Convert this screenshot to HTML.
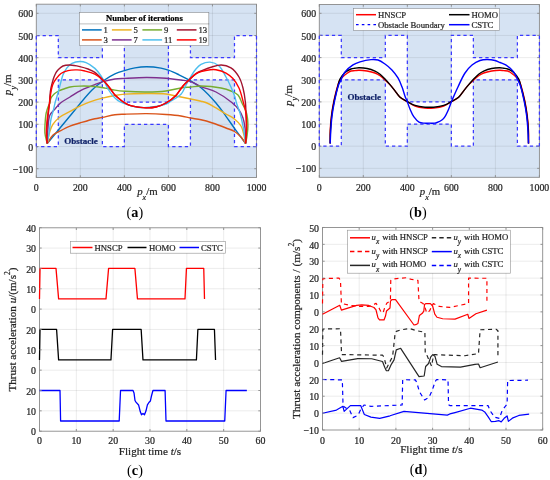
<!DOCTYPE html>
<html><head><meta charset="utf-8"><style>
html,body{margin:0;padding:0;background:#fff;width:550px;height:480px;overflow:hidden}
svg{display:block;will-change:transform}
</style></head><body>
<svg width="550" height="480" viewBox="0 0 550 480" font-family='"Liberation Serif", serif' fill="#262626">
<rect width="550" height="480" fill="#FFFFFF"/>
<rect x="36.3" y="4.2" width="220.2" height="173.3" fill="#D6E3F3"/>
<path d="M36.3 35.5 L58.32 35.5 L58.32 57.7 L102.36 57.7 L102.36 35.5 L124.38 35.5 L124.38 102.1 L168.42 102.1 L168.42 35.5 L190.44 35.5 L190.44 57.7 L234.48 57.7 L234.48 35.5 L256.5 35.5 L256.5 146.5 L234.48 146.5 L234.48 79.9 L190.44 79.9 L190.44 146.5 L168.42 146.5 L168.42 124.3 L124.38 124.3 L124.38 146.5 L102.36 146.5 L102.36 79.9 L58.32 79.9 L58.32 146.5 L36.3 146.5Z" fill="#FFFFFF"/>
<path d="M80.34 4.2 V177.5 M124.38 4.2 V177.5 M168.42 4.2 V177.5 M212.46 4.2 V177.5 M36.3 168.7 H256.5 M36.3 146.5 H256.5 M36.3 124.3 H256.5 M36.3 102.1 H256.5 M36.3 79.9 H256.5 M36.3 57.7 H256.5 M36.3 35.5 H256.5 M36.3 13.3 H256.5" stroke="#262626" stroke-opacity="0.11" stroke-width="0.8" fill="none"/>
<rect x="36.3" y="4.2" width="220.2" height="173.3" fill="none" stroke="#8A8A8A" stroke-width="0.9"/>
<path d="M36.3 35.5 L58.32 35.5 L58.32 57.7 L102.36 57.7 L102.36 35.5 L124.38 35.5 L124.38 102.1 L168.42 102.1 L168.42 35.5 L190.44 35.5 L190.44 57.7 L234.48 57.7 L234.48 35.5 L256.5 35.5" stroke="#3A3AFF" stroke-width="1.25" fill="none" stroke-dasharray="3.3 3.0"/>
<path d="M256.5 146.5 L234.48 146.5 L234.48 79.9 L190.44 79.9 L190.44 146.5 L168.42 146.5 L168.42 124.3 L124.38 124.3 L124.38 146.5 L102.36 146.5 L102.36 79.9 L58.32 79.9 L58.32 146.5 L36.3 146.5" stroke="#3A3AFF" stroke-width="1.25" fill="none" stroke-dasharray="3.3 3.0"/>
<path d="M36.3 146.5 L36.3 35.5" stroke="#3A3AFF" stroke-width="1.25" fill="none" stroke-dasharray="3.3 3.0"/>
<path d="M256.5 146.5 L256.5 35.5" stroke="#3A3AFF" stroke-width="1.25" fill="none" stroke-dasharray="3.3 3.0"/>
<path d="M47.2 143.5C54.58 134.59 61.88 125.65 69.33 116.75C76.82 107.81 85.55 96.35 92.01 90C96.13 85.96 99.18 83.71 103.02 81.01C106.81 78.35 111.09 75.7 114.91 73.91C118.17 72.38 121.11 71.56 124.38 70.58C127.78 69.55 131.33 68.54 134.95 67.91C138.67 67.27 142.36 66.81 146.4 66.8C150.96 66.79 156.81 67.39 160.93 68.13C164.07 68.7 166.27 69.35 169.08 70.35C172.26 71.49 175.71 73.21 178.99 74.79C182.31 76.39 185.48 77.93 188.9 79.9C192.78 82.14 196.95 84.36 201.01 87.67C205.96 91.71 211.63 97.92 215.98 102.99C219.82 107.46 222.83 111.96 226 116.31C228.98 120.39 231.44 124.08 234.48 128.3C237.92 133.07 241.89 138.42 245.6 143.48" stroke="#0072BD" stroke-width="1.4" fill="none"/>
<path d="M47.2 143.5C49.14 140.65 50.72 137.09 53.04 134.96C55.07 133.07 57.44 132.32 59.99 130.96C63 129.36 66.61 127.42 69.99 126.08C73.25 124.78 76.25 124.05 79.9 122.97C84.37 121.64 90.72 119.7 94.87 118.75C97.78 118.08 99.55 117.97 102.36 117.42C106.01 116.71 110.93 115.28 114.91 114.75C118.45 114.28 121.04 114.36 125.04 114.2C130.85 113.96 139.43 113.58 146.4 113.64C153.07 113.7 159.91 114.05 166 114.49C171.33 114.87 176.57 115.31 180.97 116C184.5 116.55 187.19 117.38 190.44 118C193.86 118.64 197.44 118.95 201.01 119.75C204.77 120.59 208.51 121.68 212.46 122.97C216.81 124.38 222.03 126.43 226 127.99C229.17 129.23 231.95 129.95 234.48 131.49C236.92 132.98 239.12 134.96 241 137C242.81 138.97 244.07 141.32 245.6 143.48" stroke="#D95319" stroke-width="1.4" fill="none"/>
<path d="M47.2 143.5C48.12 139.32 48.8 134.47 49.95 130.96C50.84 128.27 51.55 126.26 53.04 124.08C54.75 121.57 57.29 119.03 59.99 116.97C62.89 114.77 66.66 113.24 69.99 111.42C73.29 109.62 76.54 107.69 79.9 106.1C83.22 104.52 86.45 103.17 90.03 101.88C93.91 100.48 98.21 99.18 102.36 98.1C106.5 97.03 110.94 96.12 114.91 95.44C118.46 94.83 121.03 94.42 125.04 94.11C130.84 93.65 139.43 93.56 146.4 93.55C153.07 93.54 160.59 93.4 166 94C169.88 94.43 172.26 95.26 175.91 96C180.38 96.89 186.38 98.05 190.88 98.99C194.59 99.77 198.09 100.46 201.01 101.21C203.27 101.8 204.82 102.09 206.95 102.99C209.71 104.15 212.91 106.21 215.98 107.98C219.25 109.87 222.8 112.1 226 114C228.94 115.74 231.97 116.96 234.48 118.97C236.96 120.96 239.42 123.31 241 125.99C242.57 128.64 243.17 131.98 243.95 134.96C244.69 137.81 245.05 140.64 245.6 143.48" stroke="#EDB120" stroke-width="1.4" fill="none"/>
<path d="M47.2 143.5C47.46 138.36 47.48 132.99 47.97 128.07C48.43 123.52 48.43 118.34 49.95 114.98C51.13 112.39 53.27 110.96 55.02 108.98C56.79 106.97 58.29 104.85 60.52 102.99C63.14 100.8 66.64 99.05 69.99 96.99C73.71 94.7 77.75 91.96 81.88 89.89C86.04 87.81 90.92 86.05 94.87 84.56C98.14 83.33 100.72 82.35 103.9 81.45C107.36 80.48 111.3 79.53 114.91 79.01C118.34 78.52 121.04 78.56 125.04 78.35C130.85 78.03 139.43 77.47 146.4 77.46C153.07 77.44 159.91 77.71 166 78.19C171.33 78.61 176.61 79.37 180.97 79.99C184.37 80.47 186.91 80.51 190 81.45C193.56 82.55 197.02 84.91 201.01 86.56C205.58 88.45 211.07 89.52 215.98 92C221.36 94.71 227.73 99.11 231.84 102.54C234.86 105.07 237.1 107.3 238.99 109.98C240.76 112.48 242.01 115.11 243 118C244.06 121.08 244.56 124.27 245.01 127.99C245.55 132.57 245.4 138.32 245.6 143.48" stroke="#7E2F8E" stroke-width="1.4" fill="none"/>
<path d="M47.2 143.5C46.43 139.99 45.23 136.45 44.89 132.96C44.56 129.6 44.89 126.29 45.11 122.97C45.33 119.63 45.57 115.97 46.21 112.98C46.75 110.44 47.67 107.92 48.41 106.1C48.92 104.83 49.56 104.15 49.95 102.99C50.4 101.67 50.21 99.96 50.83 98.55C51.53 96.99 52.84 95.37 54.14 94.11C55.41 92.86 56.9 91.87 58.54 91C60.32 90.06 62.53 89.46 64.49 88.78C66.35 88.13 67.86 87.44 69.99 87C72.78 86.44 76.25 86.22 79.9 86.12C84.37 85.98 90.38 86.15 94.87 86.56C98.59 86.9 101.65 87.52 105 88.11C108.33 88.7 111.58 89.59 114.91 90.11C118.26 90.63 121.04 90.93 125.04 91.22C130.84 91.64 139.43 92.05 146.4 92C153.07 91.95 159.93 91.76 166 91C171.35 90.33 176.48 88.68 180.97 88C184.6 87.46 187.56 87.34 190.88 87C194.24 86.67 197.06 86 201.01 86C206.56 86.01 215.58 86.91 221.05 88C224.97 88.78 228 89.73 230.96 91C233.57 92.12 236.19 93.08 238 95C239.91 97.01 240.63 100.16 241.97 102.99C243.45 106.12 245.51 109.34 246.5 112.98C247.59 116.95 247.87 121.93 247.91 125.99C247.95 129.54 247.46 132.91 247.03 136C246.66 138.68 246.08 140.99 245.6 143.48" stroke="#77AC30" stroke-width="1.4" fill="none"/>
<path d="M47.2 143.5C47.82 139.99 48.47 136.73 49.07 132.96C49.76 128.63 50.18 123.32 51.05 118.97C51.84 115.09 53.21 111.05 53.92 108.09C54.4 106.08 54.51 104.96 55.02 102.99C55.73 100.2 56.99 96.55 57.99 93C59.12 88.99 60.46 83.43 61.4 80.12C62 78.03 62.18 76.81 62.94 75.02C63.89 72.8 65.31 69.89 66.91 67.91C68.36 66.11 69.95 64.54 71.97 63.47C74.2 62.3 77.41 61.56 79.9 61.47C82.08 61.4 83.92 61.73 86.07 62.58C88.85 63.69 92.34 66.08 94.87 68.36C97.31 70.55 99.3 73.35 101.04 75.9C102.63 78.24 103.78 80.73 105 83.01C106.11 85.08 106.86 86.98 108.09 89C109.45 91.26 111.18 93.89 112.93 95.88C114.51 97.69 116.05 99.24 117.99 100.55C120.06 101.94 122.45 102.89 125.04 103.88C128.02 105.01 131.49 106.15 134.95 106.76C138.6 107.41 142.09 107.78 146.4 107.54C152.08 107.22 161.71 105.6 166 103.99C168.32 103.11 169.06 102.21 171 100.99C173.77 99.23 178.43 97.11 180.97 94.33C183.36 91.72 184.44 87.89 186.04 85.01C187.43 82.5 188.5 80.44 190 77.99C191.74 75.16 193.88 71.4 195.94 69.02C197.58 67.13 198.92 65.62 201.01 64.49C203.46 63.18 207.06 61.93 210.04 62.14C213.08 62.36 216.53 63.76 219.07 65.91C222 68.41 223.96 73.36 226 77.01C227.89 80.38 229.46 83.64 230.96 87C232.43 90.3 233.97 94.06 234.92 96.99C235.65 99.22 235.78 100.75 236.46 102.99C237.35 105.91 238.94 109.4 239.99 112.98C241.16 117 242.15 121.72 243 125.99C243.81 130.06 244.56 134.76 245.01 138C245.3 140.17 245.4 141.65 245.6 143.48" stroke="#4DBEEE" stroke-width="1.4" fill="none"/>
<path d="M47.2 143.5C47.02 139.99 46.63 136.42 46.65 132.96C46.67 129.58 47.02 126.29 47.31 122.97C47.6 119.63 48.04 116.31 48.41 112.98C48.78 109.65 49.24 106.14 49.51 102.99C49.75 100.18 49.74 97.57 50 95C50.24 92.58 50.55 90.24 50.99 88C51.39 85.91 51.96 83.89 52.48 81.99C52.97 80.24 53.41 78.61 54 77.01C54.58 75.47 55.24 73.82 55.99 72.57C56.6 71.56 57.11 70.9 57.99 70C59.22 68.74 61.02 66.84 62.94 66C64.98 65.12 67.44 65 69.99 65.03C73.01 65.05 76.78 65.87 79.9 66.58C82.77 67.23 85.49 68.02 88.05 69.02C90.46 69.97 92.57 70.74 94.87 72.35C97.83 74.42 101.38 78.33 103.9 81.01C105.9 83.14 107.24 84.83 108.97 87C110.91 89.45 112.7 92.63 114.91 95C117.04 97.27 120.05 99.57 121.96 100.99C123.16 101.89 123.88 102.32 125.04 102.99C126.45 103.8 127.92 104.76 129.88 105.43C132.6 106.36 137.01 107.03 140.01 107.43C142.38 107.74 144.06 107.9 146.4 107.87C149.28 107.84 152.82 107.75 156 106.98C159.36 106.18 162.79 104.81 166 102.99C169.45 101.03 173.05 98.32 175.91 95.44C178.68 92.64 180.5 88.83 182.95 86C185.21 83.41 187.72 81.16 190 79.01C192.04 77.09 193.96 75.07 195.94 73.68C197.63 72.51 198.7 71.96 201.01 71.02C205.42 69.22 215.53 65.05 221.05 65.03C224.92 65.01 228.05 66.07 230.96 67.91C234.11 69.91 236.98 73.63 238.99 77.01C240.97 80.34 241.95 84 243 88C244.2 92.56 245.02 98.48 245.49 102.99C245.87 106.64 245.78 109.31 245.93 112.98C246.12 117.47 246.55 122.94 246.5 127.99C246.45 133.11 245.9 138.32 245.6 143.48" stroke="#A2142F" stroke-width="1.4" fill="none"/>
<path d="M47.2 143.5C46.94 139.99 46.48 136.43 46.43 132.96C46.38 129.58 46.61 126.29 46.87 122.97C47.13 119.63 47.53 116.3 47.97 112.98C48.41 109.64 49.07 106.14 49.51 102.99C49.9 100.18 50.09 97.65 50.5 95C50.92 92.33 51.32 89.33 52 87C52.55 85.11 53.26 83.41 54 81.99C54.61 80.83 55.13 80.12 55.99 79.01C57.23 77.41 58.97 74.87 60.96 73.46C62.97 72.04 65.46 71.18 68.01 70.58C70.78 69.92 74.13 69.81 77.04 69.91C79.77 70 82.2 70.4 84.96 71.02C88.11 71.73 91.78 72.53 94.87 74.13C98.11 75.8 101.43 78.66 103.9 81.01C105.96 82.97 107.24 84.83 108.97 87C110.91 89.45 112.7 92.63 114.91 95C117.04 97.27 120.05 99.57 121.96 100.99C123.16 101.89 123.88 102.32 125.04 102.99C126.45 103.8 127.92 104.76 129.88 105.43C132.6 106.36 137.01 107.03 140.01 107.43C142.38 107.74 144.06 107.9 146.4 107.87C149.28 107.84 152.82 107.75 156 106.98C159.36 106.18 162.79 104.81 166 102.99C169.45 101.03 173.05 98.32 175.91 95.44C178.68 92.64 180.5 88.83 182.95 86C185.21 83.41 187.71 81.12 190 79.01C192.03 77.14 193.95 75.16 195.94 73.91C197.62 72.85 199.03 72.33 201.01 71.69C203.6 70.85 207.53 69.98 210.26 69.69C212.38 69.46 213.84 69.34 215.98 69.69C218.89 70.16 223.09 71.44 226 73.02C228.67 74.47 230.87 76.27 232.94 78.57C235.26 81.15 237.32 84.36 238.99 88C240.98 92.31 242.28 98.48 243.51 102.99C244.5 106.64 245.42 109.28 245.93 112.98C246.55 117.45 246.55 122.94 246.5 127.99C246.45 133.11 245.9 138.32 245.6 143.48" stroke="#FF0000" stroke-width="1.4" fill="none"/>
<text x="64.2" y="143.8" font-size="9" font-weight="bold" fill="#0D1F66" stroke="#0D1F66" stroke-width="0.22">Obstacle</text>
<path d="M36.3 177.5 v-2.2 M36.3 4.2 v2.2 M80.34 177.5 v-2.2 M80.34 4.2 v2.2 M124.38 177.5 v-2.2 M124.38 4.2 v2.2 M168.42 177.5 v-2.2 M168.42 4.2 v2.2 M212.46 177.5 v-2.2 M212.46 4.2 v2.2 M256.5 177.5 v-2.2 M256.5 4.2 v2.2 M36.3 168.7 h2.2 M256.5 168.7 h-2.2 M36.3 146.5 h2.2 M256.5 146.5 h-2.2 M36.3 124.3 h2.2 M256.5 124.3 h-2.2 M36.3 102.1 h2.2 M256.5 102.1 h-2.2 M36.3 79.9 h2.2 M256.5 79.9 h-2.2 M36.3 57.7 h2.2 M256.5 57.7 h-2.2 M36.3 35.5 h2.2 M256.5 35.5 h-2.2 M36.3 13.3 h2.2 M256.5 13.3 h-2.2" stroke="#8A8A8A" stroke-width="0.9" fill="none"/>
<text x="36.3" y="190.5" font-size="9.9" text-anchor="middle"  stroke="#262626" stroke-width="0.22">0</text>
<text x="80.34" y="190.5" font-size="9.9" text-anchor="middle"  stroke="#262626" stroke-width="0.22">200</text>
<text x="124.38" y="190.5" font-size="9.9" text-anchor="middle"  stroke="#262626" stroke-width="0.22">400</text>
<text x="168.42" y="190.5" font-size="9.9" text-anchor="middle"  stroke="#262626" stroke-width="0.22">600</text>
<text x="212.46" y="190.5" font-size="9.9" text-anchor="middle"  stroke="#262626" stroke-width="0.22">800</text>
<text x="256.5" y="190.5" font-size="9.9" text-anchor="middle"  stroke="#262626" stroke-width="0.22">1000</text>
<text x="33.1" y="172.8" font-size="9.9" text-anchor="end"  stroke="#262626" stroke-width="0.22">&#8722;100</text>
<text x="33.1" y="150.6" font-size="9.9" text-anchor="end"  stroke="#262626" stroke-width="0.22">0</text>
<text x="33.1" y="128.4" font-size="9.9" text-anchor="end"  stroke="#262626" stroke-width="0.22">100</text>
<text x="33.1" y="106.2" font-size="9.9" text-anchor="end"  stroke="#262626" stroke-width="0.22">200</text>
<text x="33.1" y="84" font-size="9.9" text-anchor="end"  stroke="#262626" stroke-width="0.22">300</text>
<text x="33.1" y="61.8" font-size="9.9" text-anchor="end"  stroke="#262626" stroke-width="0.22">400</text>
<text x="33.1" y="39.6" font-size="9.9" text-anchor="end"  stroke="#262626" stroke-width="0.22">500</text>
<text x="33.1" y="17.4" font-size="9.9" text-anchor="end"  stroke="#262626" stroke-width="0.22">600</text>
<text x="137.2" y="194.8" font-size="10.8" stroke="#262626" stroke-width="0.22"><tspan font-style="italic">p</tspan><tspan font-size="8" dy="4.8" font-style="italic">x</tspan><tspan dy="-4.8">/m</tspan></text>
<text transform="translate(10.9 95.2) rotate(-90)" font-size="11.2" stroke="#262626" stroke-width="0.22"><tspan font-style="italic">p</tspan><tspan font-size="8" dy="4.8" font-style="italic">y</tspan><tspan dy="-4.8">/m</tspan></text>
<text x="134.9" y="216.9" font-size="14.2" text-anchor="middle" fill="#000">(<tspan font-weight="bold">a</tspan>)</text>
<rect x="79.5" y="12.45" width="129.3" height="33.2" fill="#FFFFFF" stroke="#262626" stroke-opacity="0.5" stroke-width="0.6"/>
<path d="M79.5 23.9 H209.3" stroke="#262626" stroke-opacity="0.5" stroke-width="0.6"/>
<text x="144.4" y="21.4" font-size="8.6" font-weight="bold" text-anchor="middle" fill="#000" stroke="#000" stroke-width="0.22">Number of iterations</text>
<path d="M82 29.9 h19.7" stroke="#0072BD" stroke-width="1.5"/>
<text x="103.6" y="33.1" font-size="8.7" text-anchor="start"  stroke="#262626" stroke-width="0.22">1</text>
<path d="M82 39.9 h19.7" stroke="#D95319" stroke-width="1.5"/>
<text x="103.6" y="43.1" font-size="8.7" text-anchor="start"  stroke="#262626" stroke-width="0.22">3</text>
<path d="M111.9 29.9 h19.7" stroke="#EDB120" stroke-width="1.5"/>
<text x="133.5" y="33.1" font-size="8.7" text-anchor="start"  stroke="#262626" stroke-width="0.22">5</text>
<path d="M111.9 39.9 h19.7" stroke="#7E2F8E" stroke-width="1.5"/>
<text x="133.5" y="43.1" font-size="8.7" text-anchor="start"  stroke="#262626" stroke-width="0.22">7</text>
<path d="M142.4 29.9 h19.7" stroke="#77AC30" stroke-width="1.5"/>
<text x="164" y="33.1" font-size="8.7" text-anchor="start"  stroke="#262626" stroke-width="0.22">9</text>
<path d="M142.4 39.9 h19.7" stroke="#4DBEEE" stroke-width="1.5"/>
<text x="164" y="43.1" font-size="8.7" text-anchor="start"  stroke="#262626" stroke-width="0.22">11</text>
<path d="M176.8 29.9 h19.7" stroke="#A2142F" stroke-width="1.5"/>
<text x="198.4" y="33.1" font-size="8.7" text-anchor="start"  stroke="#262626" stroke-width="0.22">13</text>
<path d="M176.8 39.9 h19.7" stroke="#FF0000" stroke-width="1.5"/>
<text x="198.4" y="43.1" font-size="8.7" text-anchor="start"  stroke="#262626" stroke-width="0.22">19</text>
<rect x="319.3" y="4.5" width="220.1" height="172.8" fill="#D6E3F3"/>
<path d="M319.3 35.45 L341.31 35.45 L341.31 57.6 L385.33 57.6 L385.33 35.45 L407.34 35.45 L407.34 101.9 L451.36 101.9 L451.36 35.45 L473.37 35.45 L473.37 57.6 L517.39 57.6 L517.39 35.45 L539.4 35.45 L539.4 146.2 L517.39 146.2 L517.39 79.75 L473.37 79.75 L473.37 146.2 L451.36 146.2 L451.36 124.05 L407.34 124.05 L407.34 146.2 L385.33 146.2 L385.33 79.75 L341.31 79.75 L341.31 146.2 L319.3 146.2Z" fill="#FFFFFF"/>
<path d="M363.32 4.5 V177.3 M407.34 4.5 V177.3 M451.36 4.5 V177.3 M495.38 4.5 V177.3 M319.3 168.35 H539.4 M319.3 146.2 H539.4 M319.3 124.05 H539.4 M319.3 101.9 H539.4 M319.3 79.75 H539.4 M319.3 57.6 H539.4 M319.3 35.45 H539.4 M319.3 13.3 H539.4" stroke="#262626" stroke-opacity="0.11" stroke-width="0.8" fill="none"/>
<rect x="319.3" y="4.5" width="220.1" height="172.8" fill="none" stroke="#8A8A8A" stroke-width="0.9"/>
<path d="M319.3 35.45 L341.31 35.45 L341.31 57.6 L385.33 57.6 L385.33 35.45 L407.34 35.45 L407.34 101.9 L451.36 101.9 L451.36 35.45 L473.37 35.45 L473.37 57.6 L517.39 57.6 L517.39 35.45 L539.4 35.45" stroke="#3A3AFF" stroke-width="1.25" fill="none" stroke-dasharray="3.3 3.0"/>
<path d="M539.4 146.2 L517.39 146.2 L517.39 79.75 L473.37 79.75 L473.37 146.2 L451.36 146.2 L451.36 124.05 L407.34 124.05 L407.34 146.2 L385.33 146.2 L385.33 79.75 L341.31 79.75 L341.31 146.2 L319.3 146.2" stroke="#3A3AFF" stroke-width="1.25" fill="none" stroke-dasharray="3.3 3.0"/>
<path d="M319.3 146.2 L319.3 35.45" stroke="#3A3AFF" stroke-width="1.25" fill="none" stroke-dasharray="3.3 3.0"/>
<path d="M539.4 146.2 L539.4 35.45" stroke="#3A3AFF" stroke-width="1.25" fill="none" stroke-dasharray="3.3 3.0"/>
<path d="M330.19 143.54C330.19 139.33 330.02 135.29 330.19 130.92C330.39 126.17 330.8 121.03 331.41 116.08C332.02 111.06 332.84 106.01 333.87 101.01C334.91 95.97 336.4 89.8 337.63 85.95C338.43 83.47 338.71 81.87 339.99 79.97C341.54 77.68 344.74 75.13 346.81 73.55C348.31 72.41 349.56 71.47 350.99 71C352.28 70.58 353.64 70.78 354.96 70.67C356.28 70.55 357.36 70.32 358.92 70.31C361.15 70.31 364.38 70.55 367.06 71C369.74 71.45 372.69 72.09 374.99 72.99C376.92 73.75 378.42 74.65 380.05 75.76C381.77 76.95 383.37 78.51 385 79.97C386.67 81.46 388.35 82.9 389.95 84.62C391.69 86.49 393.34 88.73 395.01 90.82C396.71 92.94 398.06 95.46 400.08 97.25C402.11 99.05 404.75 100.12 407.19 101.57C409.73 103.08 412.18 105.02 415.04 106.11C418.07 107.25 422.3 107.8 424.95 108.1C426.7 108.3 427.88 108.21 429.35 108.21C430.82 108.21 432 108.3 433.75 108.1C436.4 107.8 440.63 107.25 443.66 106.11C446.52 105.02 448.97 103.08 451.51 101.57C453.95 100.12 456.59 99.05 458.62 97.25C460.64 95.46 461.99 92.94 463.69 90.82C465.36 88.73 467.01 86.49 468.75 84.62C470.35 82.9 472.03 81.46 473.7 79.97C475.33 78.51 476.93 76.95 478.65 75.76C480.28 74.65 481.78 73.75 483.71 72.99C486.01 72.09 488.96 71.45 491.64 71C494.32 70.55 497.55 70.31 499.78 70.31C501.34 70.32 502.42 70.55 503.74 70.67C505.06 70.78 506.42 70.58 507.71 71C509.14 71.47 510.39 72.41 511.89 73.55C513.96 75.13 517.16 77.68 518.71 79.97C519.99 81.87 520.27 83.47 521.07 85.95C522.3 89.8 523.79 95.97 524.83 101.01C525.86 106.01 526.68 111.06 527.29 116.08C527.9 121.03 528.31 126.17 528.51 130.92C528.68 135.29 528.51 139.33 528.51 143.54" stroke="#FF0000" stroke-width="1.4" fill="none"/>
<path d="M330.19 143.54C330.27 139.33 330.2 135.29 330.42 130.92C330.65 126.17 331.01 121.03 331.63 116.08C332.25 111.06 333.12 106.01 334.16 101.01C335.2 95.97 336.78 89.99 337.9 85.95C338.66 83.21 338.88 81.26 339.99 79.09C341.19 76.74 343.1 74.16 345.05 72.44C346.82 70.89 349.16 69.69 350.99 69.01C352.4 68.48 353.63 68.44 354.96 68.23C356.27 68.03 357.36 67.81 358.92 67.79C361.15 67.76 364.4 67.95 367.06 68.5C369.75 69.05 372.69 70.05 374.99 71.11C376.92 72.01 378.43 72.96 380.05 74.21C381.78 75.56 383.38 77.3 385 79C386.69 80.76 388.31 82.69 389.95 84.62C391.65 86.62 393.34 88.73 395.01 90.82C396.71 92.94 398.06 95.46 400.08 97.25C402.11 99.05 404.73 100.22 407.19 101.57C409.71 102.95 412.2 104.51 415.04 105.44C418.09 106.45 422.3 106.98 424.95 107.22C426.7 107.37 427.88 107.22 429.35 107.22C430.82 107.22 432 107.37 433.75 107.22C436.4 106.98 440.61 106.45 443.66 105.44C446.5 104.51 448.99 102.95 451.51 101.57C453.97 100.22 456.59 99.05 458.62 97.25C460.64 95.46 461.99 92.94 463.69 90.82C465.36 88.73 467.05 86.62 468.75 84.62C470.39 82.69 472.01 80.76 473.7 79C475.32 77.3 476.92 75.56 478.65 74.21C480.27 72.96 481.78 72.01 483.71 71.11C486.01 70.05 488.95 69.05 491.64 68.5C494.3 67.95 497.55 67.76 499.78 67.79C501.34 67.81 502.43 68.03 503.74 68.23C505.07 68.44 506.3 68.48 507.71 69.01C509.54 69.69 511.88 70.89 513.65 72.44C515.6 74.16 517.51 76.74 518.71 79.09C519.82 81.26 520.04 83.21 520.8 85.95C521.92 89.99 523.5 95.97 524.54 101.01C525.58 106.01 526.45 111.06 527.07 116.08C527.69 121.03 528.05 126.17 528.28 130.92C528.5 135.29 528.43 139.33 528.51 143.54" stroke="#000000" stroke-width="1.4" fill="none"/>
<path d="M330.19 143.54C330.38 139.33 330.47 135.29 330.75 130.92C331.05 126.17 331.38 120.99 332 116.08C332.62 111.17 333.47 106.38 334.49 101.46C335.54 96.35 337.06 89.4 338.23 85.95C338.84 84.15 339.22 83.58 339.99 81.96C341.22 79.38 342.85 74.86 345.05 72C347.2 69.2 350.27 66.65 352.98 64.91C355.28 63.43 357.36 62.65 360.02 61.81C363.23 60.79 367.75 59.82 371.02 59.59C373.62 59.42 375.8 59.36 378.07 60.04C380.47 60.76 382.76 62.44 385 64.02C387.39 65.72 389.81 67.74 391.93 70C394.15 72.37 396.3 75.13 397.99 77.98C399.67 80.82 400.89 84.02 402.06 87.06C403.19 90 403.97 93.33 404.92 95.92C405.68 98 406.41 99.46 407.19 101.46C408.09 103.77 408.89 106.47 409.98 108.99C411.13 111.64 412.33 114.71 413.94 116.96C415.39 118.99 417.16 121.04 419.01 122.06C420.58 122.92 422.35 122.98 424.07 123.16C425.8 123.35 427.59 123.16 429.35 123.16C431.11 123.16 433.22 123.35 434.63 123.16C435.61 123.03 436.13 122.86 437.05 122.5C438.41 121.98 440.55 121.11 441.9 120.06C443.15 119.09 443.99 118 444.98 116.52C446.3 114.54 447.62 111.53 448.72 108.99C449.79 106.51 450.71 103.48 451.51 101.46C452.06 100.08 452.34 99.47 452.99 98C454.15 95.36 456.12 90.86 457.96 86.99C460.07 82.59 462.39 76.88 465.01 72.99C467.16 69.8 469.4 67.12 472.01 65C474.42 63.03 477.32 61.4 479.97 60.5C482.31 59.71 484.58 59.53 486.99 59.5C489.58 59.48 492.68 59.9 495.01 60.5C496.9 60.99 498.28 61.79 500 62.5C501.85 63.25 503.77 63.67 505.72 64.91C508.28 66.53 511.65 69.44 513.65 72C515.38 74.22 516.48 77.24 517.39 79.09C517.96 80.25 518.24 80.93 518.71 81.96C519.26 83.18 519.86 84.15 520.47 85.95C521.64 89.4 523.16 96.35 524.21 101.46C525.23 106.38 526.08 111.17 526.7 116.08C527.32 120.99 527.65 126.17 527.95 130.92C528.23 135.29 528.32 139.33 528.51 143.54" stroke="#0000FF" stroke-width="1.4" fill="none"/>
<text x="347.5" y="99.5" font-size="9" font-weight="bold" fill="#0D1F66" stroke="#0D1F66" stroke-width="0.22">Obstacle</text>
<path d="M319.3 177.3 v-2.2 M319.3 4.5 v2.2 M363.32 177.3 v-2.2 M363.32 4.5 v2.2 M407.34 177.3 v-2.2 M407.34 4.5 v2.2 M451.36 177.3 v-2.2 M451.36 4.5 v2.2 M495.38 177.3 v-2.2 M495.38 4.5 v2.2 M539.4 177.3 v-2.2 M539.4 4.5 v2.2 M319.3 168.35 h2.2 M539.4 168.35 h-2.2 M319.3 146.2 h2.2 M539.4 146.2 h-2.2 M319.3 124.05 h2.2 M539.4 124.05 h-2.2 M319.3 101.9 h2.2 M539.4 101.9 h-2.2 M319.3 79.75 h2.2 M539.4 79.75 h-2.2 M319.3 57.6 h2.2 M539.4 57.6 h-2.2 M319.3 35.45 h2.2 M539.4 35.45 h-2.2 M319.3 13.3 h2.2 M539.4 13.3 h-2.2" stroke="#8A8A8A" stroke-width="0.9" fill="none"/>
<text x="319.3" y="190.5" font-size="9.9" text-anchor="middle"  stroke="#262626" stroke-width="0.22">0</text>
<text x="363.32" y="190.5" font-size="9.9" text-anchor="middle"  stroke="#262626" stroke-width="0.22">200</text>
<text x="407.34" y="190.5" font-size="9.9" text-anchor="middle"  stroke="#262626" stroke-width="0.22">400</text>
<text x="451.36" y="190.5" font-size="9.9" text-anchor="middle"  stroke="#262626" stroke-width="0.22">600</text>
<text x="495.38" y="190.5" font-size="9.9" text-anchor="middle"  stroke="#262626" stroke-width="0.22">800</text>
<text x="539.4" y="190.5" font-size="9.9" text-anchor="middle"  stroke="#262626" stroke-width="0.22">1000</text>
<text x="316.1" y="172.45" font-size="9.9" text-anchor="end"  stroke="#262626" stroke-width="0.22">&#8722;100</text>
<text x="316.1" y="150.3" font-size="9.9" text-anchor="end"  stroke="#262626" stroke-width="0.22">0</text>
<text x="316.1" y="128.15" font-size="9.9" text-anchor="end"  stroke="#262626" stroke-width="0.22">100</text>
<text x="316.1" y="106" font-size="9.9" text-anchor="end"  stroke="#262626" stroke-width="0.22">200</text>
<text x="316.1" y="83.85" font-size="9.9" text-anchor="end"  stroke="#262626" stroke-width="0.22">300</text>
<text x="316.1" y="61.7" font-size="9.9" text-anchor="end"  stroke="#262626" stroke-width="0.22">400</text>
<text x="316.1" y="39.55" font-size="9.9" text-anchor="end"  stroke="#262626" stroke-width="0.22">500</text>
<text x="316.1" y="17.4" font-size="9.9" text-anchor="end"  stroke="#262626" stroke-width="0.22">600</text>
<text x="419.8" y="194.8" font-size="10.8" stroke="#262626" stroke-width="0.22"><tspan font-style="italic">p</tspan><tspan font-size="8" dy="4.8" font-style="italic">x</tspan><tspan dy="-4.8">/m</tspan></text>
<text transform="translate(292 106) rotate(-90)" font-size="11.2" stroke="#262626" stroke-width="0.22"><tspan font-style="italic">p</tspan><tspan font-size="8" dy="4.8" font-style="italic">y</tspan><tspan dy="-4.8">/m</tspan></text>
<text x="418" y="216.9" font-size="14.2" text-anchor="middle" fill="#000">(<tspan font-weight="bold">b</tspan>)</text>
<rect x="353.5" y="8.5" width="146" height="22" fill="#FFFFFF" stroke="#262626" stroke-opacity="0.5" stroke-width="0.6"/>
<path d="M356 14.7 h20" stroke="#FF0000" stroke-width="1.5"/>
<text x="378" y="17.9" font-size="8.7" text-anchor="start"  stroke="#262626" stroke-width="0.22">HNSCP</text>
<path d="M356 24.7 h20" stroke="#0000FF" stroke-width="1.2" stroke-dasharray="2.6 3.2"/>
<text x="378" y="27.9" font-size="8.7" text-anchor="start"  stroke="#262626" stroke-width="0.22">Obstacle Boundary</text>
<path d="M449 14.7 h20.5" stroke="#000000" stroke-width="1.5"/>
<text x="471.5" y="17.9" font-size="8.7" text-anchor="start"  stroke="#262626" stroke-width="0.22">HOMO</text>
<path d="M449 24.7 h20.5" stroke="#0000FF" stroke-width="1.5"/>
<text x="471.5" y="27.9" font-size="8.7" text-anchor="start"  stroke="#262626" stroke-width="0.22">CSTC</text>
<path d="M76.33 227.8 V431.2 M113.16 227.8 V431.2 M149.99 227.8 V431.2 M186.82 227.8 V431.2 M223.65 227.8 V431.2 M39.5 410.85 H260.5 M39.5 390.5 H260.5 M39.5 370.15 H260.5 M39.5 349.8 H260.5 M39.5 329.45 H260.5 M39.5 309.1 H260.5 M39.5 288.75 H260.5 M39.5 268.4 H260.5 M39.5 248.05 H260.5" stroke="#262626" stroke-opacity="0.11" stroke-width="0.8" fill="none"/>
<rect x="39.5" y="227.8" width="221" height="203.4" fill="none" stroke="#8A8A8A" stroke-width="0.9"/>
<path d="M39.5 298.92 L40.05 268.4 L56 268.4 L58.61 298.92 L105.98 298.92 L108.59 268.4 L134.89 268.4 L137.47 298.92 L184.98 298.92 L186.45 268.4 L203.76 268.4 L204.5 298.92" stroke="#FF0000" stroke-width="1.3" fill="none" stroke-linejoin="round"/>
<path d="M39.5 359.97 L40.02 329.45 L56.59 329.45 L58.61 359.97 L110.95 359.97 L112.61 329.45 L141.15 329.45 L142.99 359.97 L196.4 359.97 L197.87 329.45 L214.44 329.45 L215.55 359.97" stroke="#000000" stroke-width="1.3" fill="none" stroke-linejoin="round"/>
<path d="M39.5 390.5 L60.01 390.5 L60.6 421.02 L119.2 421.02 L120.53 390.5 L133.05 390.5 L134.01 392.94 L135 400.47 L135.99 402.1 L138.57 404.95 L140.41 412.07 L141.52 414.8 L142.99 413.5 L144.47 414.8 L145.94 411.05 L147.41 404.95 L148.89 402.51 L150.36 401.08 L151.46 395.99 L152.94 390.5 L165.09 390.5 L166.01 421.02 L224.75 421.02 L226.08 390.5 L246.85 390.5" stroke="#0000FF" stroke-width="1.3" fill="none" stroke-linejoin="round"/>
<path d="M39.5 431.2 v-2.2 M39.5 227.8 v2.2 M76.33 431.2 v-2.2 M76.33 227.8 v2.2 M113.16 431.2 v-2.2 M113.16 227.8 v2.2 M149.99 431.2 v-2.2 M149.99 227.8 v2.2 M186.82 431.2 v-2.2 M186.82 227.8 v2.2 M223.65 431.2 v-2.2 M223.65 227.8 v2.2 M260.48 431.2 v-2.2 M260.48 227.8 v2.2 M39.5 431.2 h2.2 M260.5 431.2 h-2.2 M39.5 410.85 h2.2 M260.5 410.85 h-2.2 M39.5 390.5 h2.2 M260.5 390.5 h-2.2 M39.5 370.15 h2.2 M260.5 370.15 h-2.2 M39.5 349.8 h2.2 M260.5 349.8 h-2.2 M39.5 329.45 h2.2 M260.5 329.45 h-2.2 M39.5 309.1 h2.2 M260.5 309.1 h-2.2 M39.5 288.75 h2.2 M260.5 288.75 h-2.2 M39.5 268.4 h2.2 M260.5 268.4 h-2.2 M39.5 248.05 h2.2 M260.5 248.05 h-2.2 M39.5 227.7 h2.2 M260.5 227.7 h-2.2" stroke="#8A8A8A" stroke-width="0.9" fill="none"/>
<text x="39.5" y="443.9" font-size="9.9" text-anchor="middle"  stroke="#262626" stroke-width="0.22">0</text>
<text x="76.33" y="443.9" font-size="9.9" text-anchor="middle"  stroke="#262626" stroke-width="0.22">10</text>
<text x="113.16" y="443.9" font-size="9.9" text-anchor="middle"  stroke="#262626" stroke-width="0.22">20</text>
<text x="149.99" y="443.9" font-size="9.9" text-anchor="middle"  stroke="#262626" stroke-width="0.22">30</text>
<text x="186.82" y="443.9" font-size="9.9" text-anchor="middle"  stroke="#262626" stroke-width="0.22">40</text>
<text x="223.65" y="443.9" font-size="9.9" text-anchor="middle"  stroke="#262626" stroke-width="0.22">50</text>
<text x="260.48" y="443.9" font-size="9.9" text-anchor="middle"  stroke="#262626" stroke-width="0.22">60</text>
<text x="36" y="435.3" font-size="9.9" text-anchor="end"  stroke="#262626" stroke-width="0.22">0</text>
<text x="36" y="414.95" font-size="9.9" text-anchor="end"  stroke="#262626" stroke-width="0.22">10</text>
<text x="36" y="394.6" font-size="9.9" text-anchor="end"  stroke="#262626" stroke-width="0.22">20</text>
<text x="36" y="374.25" font-size="9.9" text-anchor="end"  stroke="#262626" stroke-width="0.22">0</text>
<text x="36" y="353.9" font-size="9.9" text-anchor="end"  stroke="#262626" stroke-width="0.22">10</text>
<text x="36" y="333.55" font-size="9.9" text-anchor="end"  stroke="#262626" stroke-width="0.22">20</text>
<text x="36" y="313.2" font-size="9.9" text-anchor="end"  stroke="#262626" stroke-width="0.22">0</text>
<text x="36" y="292.85" font-size="9.9" text-anchor="end"  stroke="#262626" stroke-width="0.22">10</text>
<text x="36" y="272.5" font-size="9.9" text-anchor="end"  stroke="#262626" stroke-width="0.22">20</text>
<text x="36" y="252.15" font-size="9.9" text-anchor="end"  stroke="#262626" stroke-width="0.22">30</text>
<text x="36" y="231.8" font-size="9.9" text-anchor="end"  stroke="#262626" stroke-width="0.22">40</text>
<text x="150" y="455" font-size="11.1" text-anchor="middle" stroke="#262626" stroke-width="0.22">Flight time <tspan font-style="italic">t</tspan>/s</text>
<text transform="translate(15.8 329.5) rotate(-90)" font-size="11.1" text-anchor="middle" stroke="#262626" stroke-width="0.22">Thrust acceleration <tspan font-style="italic">u</tspan>/(m/s<tspan font-size="7.5" dy="-5.5">2</tspan><tspan dy="5.5">)</tspan></text>
<text x="135" y="474.5" font-size="14.2" text-anchor="middle" fill="#000">(<tspan font-weight="bold">c</tspan>)</text>
<rect x="70.5" y="241.5" width="155" height="11.7" fill="#FFFFFF" stroke="#262626" stroke-opacity="0.5" stroke-width="0.6"/>
<path d="M72.5 247.5 h20" stroke="#FF0000" stroke-width="1.5"/>
<text x="94.5" y="250.6" font-size="8.7" text-anchor="start"  stroke="#262626" stroke-width="0.22">HNSCP</text>
<path d="M127.5 247.5 h19" stroke="#000000" stroke-width="1.5"/>
<text x="149" y="250.6" font-size="8.7" text-anchor="start"  stroke="#262626" stroke-width="0.22">HOMO</text>
<path d="M179.5 247.5 h19.5" stroke="#0000FF" stroke-width="1.5"/>
<text x="201" y="250.6" font-size="8.7" text-anchor="start"  stroke="#262626" stroke-width="0.22">CSTC</text>
<path d="M359.2 227.5 V430 M395.9 227.5 V430 M432.6 227.5 V430 M469.3 227.5 V430 M506 227.5 V430 M322.5 413.1 H542.7 M322.5 396.23 H542.7 M322.5 379.35 H542.7 M322.5 362.48 H542.7 M322.5 345.6 H542.7 M322.5 328.73 H542.7 M322.5 311.85 H542.7 M322.5 294.98 H542.7 M322.5 278.1 H542.7 M322.5 261.23 H542.7 M322.5 244.35 H542.7" stroke="#262626" stroke-opacity="0.11" stroke-width="0.8" fill="none"/>
<rect x="322.5" y="227.5" width="220.2" height="202.5" fill="none" stroke="#8A8A8A" stroke-width="0.9"/>
<path d="M322.5 303.41 L322.87 278.61 L339.01 278.1 L340.48 280.63 L341.4 303.5 L351.13 305.44 L359.57 306.45 L368.74 306.45 L372.05 305.44 L376.08 303.29 L379.02 307.97 L381 311.95 L383.06 312.86 L384.89 306.96 L386.98 302.91 L390.39 301.05 L390.76 280.46 L391.86 279.28 L401.4 278.1 L406.18 277.76 L411.68 279.45 L417.92 280.46 L419.02 301.22 L423.06 303.58 L424.53 305.94 L426.73 312.86 L429.66 310.84 L431.13 307.46 L433.33 303.58 L435.17 304.59 L439.21 306.45 L449.85 307.46 L457.92 305.69 L465.81 304 L468.57 303.24 L468.57 278.18 L486.92 278.27 L486.92 303.24" stroke="#FF0000" stroke-width="1.2" fill="none" stroke-linejoin="round" stroke-dasharray="4.1 3.6"/>
<path d="M322.5 314.3 L339.75 305.27 L341.4 310.16 L356.63 305.44 L361.77 304.93 L368.74 305.44 L369.99 305.99 L373.99 307.5 L376.01 309.99 L377.99 317.93 L379.5 319.95 L384.01 319.95 L385.51 316.07 L386.5 311.01 L389.99 307.97 L390.51 301.05 L392.01 299.53 L395.53 299.53 L413.99 325.01 L415.72 324.68 L417.92 323.49 L419.39 315.56 L422.32 313.3 L423.79 311.11 L424.53 304.59 L425.99 303.58 L430.4 303.58 L432.6 305.99 L434.8 314.04 L437 317.25 L442.69 318.77 L454.99 319.11 L467.83 314.3 L468.93 318.43 L475.91 313.71 L486.92 310.1" stroke="#FF0000" stroke-width="1.2" fill="none" stroke-linejoin="round"/>
<path d="M322.5 354.71 L322.87 329.06 L340.48 328.73 L341.58 354.54 L382.5 355.22 L384.01 357.08 L386.73 368.04 L389.66 362.14 L392.6 356.4 L395.17 332.94 L396.27 331.43 L400.67 329.91 L409.48 328.56 L416.82 330.75 L424.89 332.27 L425.26 354.21 L426.73 354.71 L431.5 366.02 L433.7 354.71 L435.54 354.71 L464.9 355.73 L478.48 353.62 L480.13 329.74 L496.09 329.23 L497.93 330.75 L497.93 355.22" stroke="#262626" stroke-width="1.2" fill="none" stroke-linejoin="round" stroke-dasharray="4.1 3.6"/>
<path d="M322.5 363.49 L339.6 357.75 L341.58 361.46 L357.73 358.59 L371.68 358.76 L382.5 361.46 L384.71 367.2 L386.36 370.74 L388.41 370.74 L391.31 364.33 L394.06 359.94 L396.27 349.82 L400.67 348.3 L419.02 376.65 L424.16 375.98 L425.63 366.53 L428.56 363.49 L430.76 356.91 L432.78 354.71 L434.99 356.32 L437.19 364.33 L441.41 366.53 L460.49 367.2 L474.99 364.33 L478.48 363.99 L480.13 367.71 L497.93 361.97" stroke="#262626" stroke-width="1.2" fill="none" stroke-linejoin="round"/>
<path d="M322.5 379.52 L342.32 379.86 L343.05 405.51 L343.42 406.35 L349.91 410.74 L352.96 417.66 L358.1 415.12 L360.67 409.56 L363.97 405 L370.94 406.35 L402.14 405 L402.69 379.69 L415.35 379.86 L416.82 382.73 L419.39 391.67 L424.53 399.94 L428.93 397.41 L432.23 390.32 L435.17 381.54 L436.64 379.52 L448.01 379.86 L448.56 404.66 L449.85 405.59 L488.02 405.59 L490.59 411.41 L494.62 417.15 L499.39 418.33 L502.33 410.06 L507.1 404.16 L507.65 380.53 L528.02 380.19" stroke="#0000FF" stroke-width="1.2" fill="none" stroke-linejoin="round" stroke-dasharray="4.1 3.6"/>
<path d="M322.5 413.27 L336.45 410.06 L342.91 406.35 L344.15 411.41 L350.39 405.59 L360.67 405.59 L364.34 414.45 L370.94 417.15 L379.75 418.33 L390.03 415.8 L403.97 411.41 L447.28 415.12 L449.85 413.94 L454.99 412.59 L470.4 408.21 L481.78 410.06 L484.71 411.92 L488.38 417.15 L491.32 421.71 L495.36 421.37 L499.03 420.69 L501.23 421.88 L504.16 418.33 L507.1 415.97 L508.39 421.37 L512.97 417.83 L518.85 415.46 L529.12 414.2" stroke="#0000FF" stroke-width="1.2" fill="none" stroke-linejoin="round"/>
<path d="M322.5 430 v-2.2 M322.5 227.5 v2.2 M359.2 430 v-2.2 M359.2 227.5 v2.2 M395.9 430 v-2.2 M395.9 227.5 v2.2 M432.6 430 v-2.2 M432.6 227.5 v2.2 M469.3 430 v-2.2 M469.3 227.5 v2.2 M506 430 v-2.2 M506 227.5 v2.2 M542.7 430 v-2.2 M542.7 227.5 v2.2 M322.5 429.98 h2.2 M542.7 429.98 h-2.2 M322.5 413.1 h2.2 M542.7 413.1 h-2.2 M322.5 396.23 h2.2 M542.7 396.23 h-2.2 M322.5 379.35 h2.2 M542.7 379.35 h-2.2 M322.5 362.48 h2.2 M542.7 362.48 h-2.2 M322.5 345.6 h2.2 M542.7 345.6 h-2.2 M322.5 328.73 h2.2 M542.7 328.73 h-2.2 M322.5 311.85 h2.2 M542.7 311.85 h-2.2 M322.5 294.98 h2.2 M542.7 294.98 h-2.2 M322.5 278.1 h2.2 M542.7 278.1 h-2.2 M322.5 261.23 h2.2 M542.7 261.23 h-2.2 M322.5 244.35 h2.2 M542.7 244.35 h-2.2 M322.5 227.48 h2.2 M542.7 227.48 h-2.2" stroke="#8A8A8A" stroke-width="0.9" fill="none"/>
<text x="322.5" y="443.9" font-size="9.9" text-anchor="middle"  stroke="#262626" stroke-width="0.22">0</text>
<text x="359.2" y="443.9" font-size="9.9" text-anchor="middle"  stroke="#262626" stroke-width="0.22">10</text>
<text x="395.9" y="443.9" font-size="9.9" text-anchor="middle"  stroke="#262626" stroke-width="0.22">20</text>
<text x="432.6" y="443.9" font-size="9.9" text-anchor="middle"  stroke="#262626" stroke-width="0.22">30</text>
<text x="469.3" y="443.9" font-size="9.9" text-anchor="middle"  stroke="#262626" stroke-width="0.22">40</text>
<text x="506" y="443.9" font-size="9.9" text-anchor="middle"  stroke="#262626" stroke-width="0.22">50</text>
<text x="542.7" y="443.9" font-size="9.9" text-anchor="middle"  stroke="#262626" stroke-width="0.22">60</text>
<text x="319" y="434.18" font-size="9.9" text-anchor="end"  stroke="#262626" stroke-width="0.22">&#8722;10</text>
<text x="319" y="417.3" font-size="9.9" text-anchor="end"  stroke="#262626" stroke-width="0.22">0</text>
<text x="319" y="400.43" font-size="9.9" text-anchor="end"  stroke="#262626" stroke-width="0.22">10</text>
<text x="319" y="383.55" font-size="9.9" text-anchor="end"  stroke="#262626" stroke-width="0.22">20</text>
<text x="319" y="366.68" font-size="9.9" text-anchor="end"  stroke="#262626" stroke-width="0.22">0</text>
<text x="319" y="349.8" font-size="9.9" text-anchor="end"  stroke="#262626" stroke-width="0.22">10</text>
<text x="319" y="332.93" font-size="9.9" text-anchor="end"  stroke="#262626" stroke-width="0.22">20</text>
<text x="319" y="316.05" font-size="9.9" text-anchor="end"  stroke="#262626" stroke-width="0.22">0</text>
<text x="319" y="299.18" font-size="9.9" text-anchor="end"  stroke="#262626" stroke-width="0.22">10</text>
<text x="319" y="282.3" font-size="9.9" text-anchor="end"  stroke="#262626" stroke-width="0.22">20</text>
<text x="319" y="265.43" font-size="9.9" text-anchor="end"  stroke="#262626" stroke-width="0.22">30</text>
<text x="319" y="248.55" font-size="9.9" text-anchor="end"  stroke="#262626" stroke-width="0.22">40</text>
<text x="319" y="231.68" font-size="9.9" text-anchor="end"  stroke="#262626" stroke-width="0.22">50</text>
<text x="431.35" y="452.6" font-size="11.1" text-anchor="middle" stroke="#262626" stroke-width="0.22">Flight time <tspan font-style="italic">t</tspan>/s</text>
<text transform="translate(299.9 329) rotate(-90)" font-size="11.25" text-anchor="middle" stroke="#262626" stroke-width="0.22">Thrust acceleration components / (m/s<tspan font-size="7.5" dy="-5.5">2</tspan><tspan dy="5.5">)</tspan></text>
<text x="418.5" y="474" font-size="14.2" text-anchor="middle" fill="#000">(<tspan font-weight="bold">d</tspan>)</text>
<rect x="347.6" y="230.2" width="162.8" height="43" fill="#FFFFFF" stroke="#262626" stroke-opacity="0.5" stroke-width="0.6"/>
<path d="M350 237.8 h20" stroke="#FF0000" stroke-width="1.5"/>
<text x="371.6" y="239.7" font-size="8.7" stroke="#262626" stroke-width="0.22"><tspan font-style="italic">u</tspan><tspan font-size="7.4" font-style="italic" dy="4.7">x</tspan><tspan dy="-4.7" dx="3">with HNSCP</tspan></text>
<path d="M350 251.6 h20" stroke="#FF0000" stroke-width="1.5" stroke-dasharray="4.4 3.1"/>
<text x="371.6" y="253.5" font-size="8.7" stroke="#262626" stroke-width="0.22"><tspan font-style="italic">u</tspan><tspan font-size="7.4" font-style="italic" dy="4.7">y</tspan><tspan dy="-4.7" dx="3">with HNSCP</tspan></text>
<path d="M350 265.4 h20" stroke="#262626" stroke-width="1.5"/>
<text x="371.6" y="267.3" font-size="8.7" stroke="#262626" stroke-width="0.22"><tspan font-style="italic">u</tspan><tspan font-size="7.4" font-style="italic" dy="4.7">x</tspan><tspan dy="-4.7" dx="3">with HOMO</tspan></text>
<path d="M431.8 237.8 h20" stroke="#262626" stroke-width="1.5" stroke-dasharray="4.4 3.1"/>
<text x="453.4" y="239.7" font-size="8.7" stroke="#262626" stroke-width="0.22"><tspan font-style="italic">u</tspan><tspan font-size="7.4" font-style="italic" dy="4.7">y</tspan><tspan dy="-4.7" dx="3">with HOMO</tspan></text>
<path d="M431.8 251.6 h20" stroke="#0000FF" stroke-width="1.5"/>
<text x="453.4" y="253.5" font-size="8.7" stroke="#262626" stroke-width="0.22"><tspan font-style="italic">u</tspan><tspan font-size="7.4" font-style="italic" dy="4.7">x</tspan><tspan dy="-4.7" dx="3">with CSTC</tspan></text>
<path d="M431.8 265.4 h20" stroke="#0000FF" stroke-width="1.5" stroke-dasharray="4.4 3.1"/>
<text x="453.4" y="267.3" font-size="8.7" stroke="#262626" stroke-width="0.22"><tspan font-style="italic">u</tspan><tspan font-size="7.4" font-style="italic" dy="4.7">y</tspan><tspan dy="-4.7" dx="3">with CSTC</tspan></text>
</svg>
</body></html>
